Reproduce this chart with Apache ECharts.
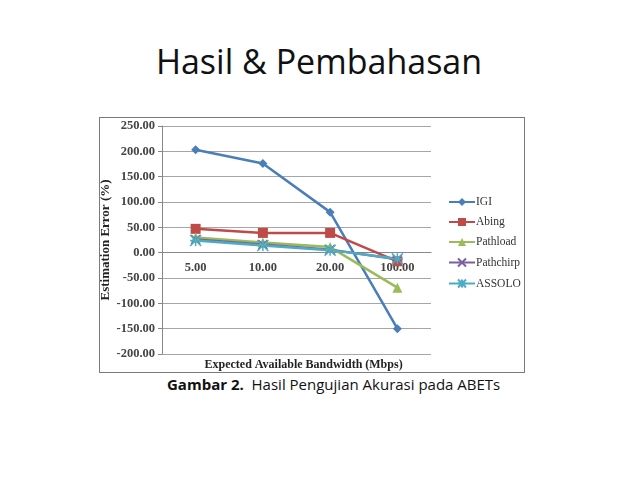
<!DOCTYPE html>
<html>
<head>
<meta charset="utf-8">
<script src="https://cdn.jsdelivr.net/npm/echarts@6/dist/echarts.min.js"></script>
<style>
  html, body { margin: 0; padding: 0; background: #fff; }
  #page { position: relative; width: 638px; height: 478px; overflow: hidden; }
  #title { position: absolute; left: 0; width: 638px; top: 38px; text-align: center;
    font-family: "Open Sans", sans-serif; font-size: 34px; color: #111; }
  #frame { position: absolute; left: 99px; top: 117px; width: 424px; height: 254px;
    border: 1.5px solid #7a7a7a; }
  #chart { width: 424px; height: 254px; }
  #caption { position: absolute; left: 167px; top: 374px;
    font-family: "Open Sans", sans-serif; font-size: 15px; color: #111; }
</style>
</head>
<body>
<div id="page">
  <div id="title">Hasil &amp; Pembahasan</div>
  <div id="frame"><div id="chart"></div></div>
  <div id="caption"><b>Gambar 2.</b>&nbsp; Hasil Pengujian Akurasi pada ABETs</div>
</div>
<script>
  // data
  var categories = ['5.00', '10.00', '20.00', '100.00'];
  var igi = [203, 176, 80, -150];
  var abing = [47, 39, 39, -17];
  var pathload = [30, 20, 11, -69];
  var pathchirp = [26, 16, 6, -13];
  var assolo = [24, 14, 5, -12];

  var yMin = -200, yMax = 250;
  var gridTop = 8, gridH = 228;
  var serif = '"Liberation Serif", "DejaVu Serif", serif';
  var chart = echarts.init(document.getElementById('chart'));

  var mk = function (name, data, color, symbol, size, stroke) {
    return {
      name: name, type: 'line', data: data,
      symbol: symbol, symbolSize: size,
      lineStyle: { color: color, width: 2.5 },
      itemStyle: stroke ? { color: 'none', borderColor: color, borderWidth: 1.5 } : { color: color },
      emphasis: { disabled: true },
      z: 2
    };
  };

  // x axis sits on the zero line
  var zeroOffset = -gridH * (0 - yMin) / (yMax - yMin);

  var option = {
    animation: false,
    backgroundColor: '#fff',
    grid: { left: 62, top: gridTop, width: 269, height: gridH, outerBoundsMode: 'none', containLabel: false },
    legend: {
      orient: 'vertical', left: 343, top: 73,
      itemWidth: 26, itemHeight: 10, itemGap: 8,
      textStyle: { fontFamily: serif, fontSize: 11.5, color: '#333', padding: [0, 0, 0, -4] },
      data: ['IGI', 'Abing', 'Pathload', 'Pathchirp', 'ASSOLO']
    },
    xAxis: {
      type: 'category', data: categories, boundaryGap: true,
      position: 'bottom', offset: zeroOffset,
      axisLine: { onZero: false, lineStyle: { color: '#888', width: 1 } },
      axisTick: { inside: true, length: 4, lineStyle: { color: '#888' } },
      axisLabel: { fontFamily: serif, fontSize: 12.5, fontWeight: 'bold', color: '#444', margin: 9 },
      splitLine: { show: false }
    },
    yAxis: {
      type: 'value', min: yMin, max: yMax, interval: 50,
      name: 'Estimation Error (%)', nameLocation: 'middle', nameGap: 50, nameMoveOverlap: false,
      nameTextStyle: { fontFamily: serif, fontSize: 13, fontWeight: 'bold', color: '#222' },
      axisLine: { show: true, lineStyle: { color: '#888' } },
      axisTick: { show: true, length: 4, lineStyle: { color: '#888' } },
      axisLabel: {
        fontFamily: serif, fontSize: 12.5, fontWeight: 'bold', color: '#444', margin: 7,
        formatter: function (v) { return v.toFixed(2); }
      },
      splitLine: { lineStyle: { color: '#a6a6a6', width: 1 } }
    },
    graphic: [{
      type: 'text', left: 62 + 269 / 2 - 92, top: 241,
      style: { text: 'Expected Available Bandwidth (Mbps)', fontFamily: serif,
        fontSize: 12, fontWeight: 'bold', fill: '#222' }
    }],
    series: [
      mk('IGI', igi, '#4a7ebb', 'diamond', 9),
      mk('Abing', abing, '#be4b48', 'rect', 10),
      mk('Pathload', pathload, '#9bbb59', 'triangle', 10),
      mk('Pathchirp', pathchirp, '#7d5fa0', 'path://M0,0L10,10M10,0L0,10', 9, true),
      mk('ASSOLO', assolo, '#4bacc6', 'path://M0,0L10,10M10,0L0,10M5,0L5,10M0,5L10,5', 11, true)
    ]
  };
  chart.setOption(option);
</script>
</body>
</html>
